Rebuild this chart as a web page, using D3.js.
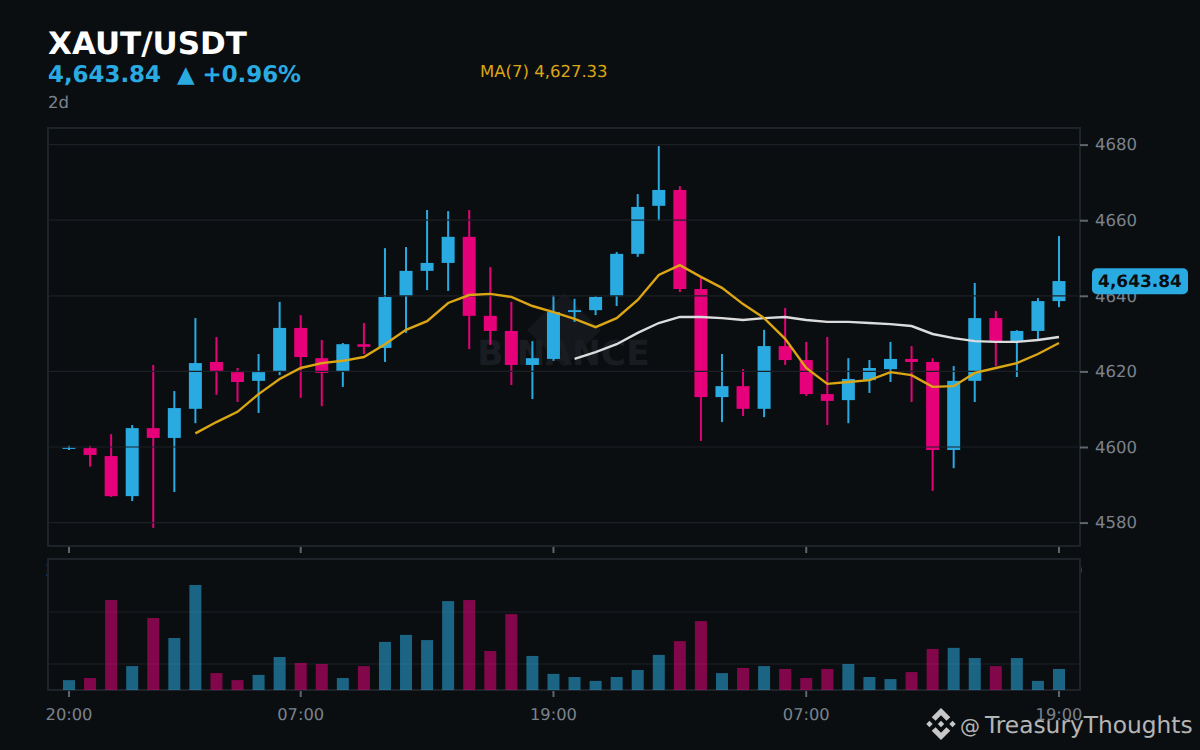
<!DOCTYPE html>
<html>
<head>
<meta charset="utf-8">
<script src="https://cdn.jsdelivr.net/npm/d3@7"></script>
<style>
  html, body { margin: 0; padding: 0; background: #0a0e11; }
  svg { display: block; font-family: "DejaVu Sans", sans-serif; text-rendering: geometricPrecision; }
</style>
</head>
<body>
<svg id="chart" width="1200" height="750"></svg>
<script>
const opens = [4599.5, 4599.7, 4597.6, 4587.0, 4605.0, 4602.4, 4610.1, 4622.5, 4619.8, 4617.5, 4620.1, 4631.5, 4623.5, 4620.1, 4627.2, 4626.2, 4639.9, 4646.6, 4648.7, 4655.6, 4634.7, 4630.7, 4621.7, 4623.3, 4635.7, 4636.2, 4639.9, 4651.1, 4663.8, 4668.0, 4641.8, 4613.2, 4616.1, 4610.1, 4626.7, 4623.0, 4614.0, 4612.4, 4617.7, 4620.6, 4623.3, 4622.5, 4599.2, 4617.5, 4634.1, 4627.8, 4630.7, 4638.6];
const closes = [4599.8, 4597.9, 4587.0, 4605.0, 4602.4, 4610.3, 4622.2, 4620.1, 4617.2, 4619.8, 4631.5, 4623.8, 4619.6, 4627.2, 4626.5, 4639.7, 4646.6, 4648.7, 4655.6, 4634.7, 4630.7, 4621.7, 4623.5, 4635.7, 4636.2, 4639.7, 4651.1, 4663.5, 4668.0, 4641.8, 4613.2, 4616.1, 4610.1, 4626.7, 4623.0, 4614.0, 4612.2, 4618.0, 4620.9, 4623.3, 4622.5, 4599.2, 4617.5, 4634.1, 4628.0, 4630.7, 4638.6, 4643.9];
const highs = [4600.3, 4600.3, 4603.4, 4605.8, 4621.7, 4614.8, 4634.1, 4629.1, 4620.9, 4624.6, 4638.4, 4634.9, 4628.3, 4627.5, 4632.8, 4652.6, 4652.9, 4662.7, 4662.4, 4662.7, 4647.6, 4638.4, 4628.0, 4640.2, 4639.2, 4639.9, 4651.6, 4666.9, 4679.6, 4669.0, 4644.7, 4624.6, 4620.6, 4631.0, 4636.8, 4627.8, 4629.1, 4623.5, 4623.0, 4627.8, 4626.7, 4623.5, 4621.4, 4643.4, 4636.0, 4630.9, 4639.4, 4655.8];
const lows = [4599.2, 4594.8, 4586.8, 4585.7, 4578.6, 4588.1, 4606.3, 4613.8, 4611.9, 4609.0, 4619.0, 4613.0, 4610.8, 4615.9, 4624.6, 4622.5, 4630.2, 4641.5, 4641.3, 4625.9, 4627.0, 4616.4, 4612.7, 4622.8, 4633.1, 4634.9, 4637.3, 4650.3, 4659.8, 4641.0, 4601.6, 4606.6, 4608.2, 4607.9, 4621.7, 4613.5, 4605.8, 4606.3, 4614.3, 4617.2, 4611.9, 4588.4, 4594.4, 4611.9, 4621.4, 4618.5, 4628.3, 4637.0];
const volumes = [0.38, 0.46, 3.46, 0.92, 2.77, 2.0, 4.04, 0.65, 0.38, 0.58, 1.27, 1.04, 1.0, 0.46, 0.92, 1.85, 2.12, 1.92, 3.42, 3.46, 1.5, 2.92, 1.31, 0.62, 0.5, 0.35, 0.5, 0.77, 1.35, 1.88, 2.65, 0.65, 0.85, 0.92, 0.81, 0.46, 0.81, 1.0, 0.5, 0.42, 0.69, 1.58, 1.62, 1.23, 0.92, 1.23, 0.35, 0.81];
// MA(7) starts at candle 6, MA(25) at candle 24
const ma7 = [4603.6, 4606.6, 4609.3, 4614.0, 4618.0, 4620.9, 4622.2, 4622.8, 4623.8, 4627.2, 4631.0, 4633.3, 4638.1, 4640.2, 4640.5, 4639.7, 4637.3, 4635.7, 4633.9, 4631.7, 4634.1, 4638.9, 4645.5, 4648.1, 4645.0, 4642.1, 4637.8, 4634.1, 4628.6, 4620.9, 4616.7, 4617.2, 4617.7, 4619.8, 4619.0, 4615.9, 4616.1, 4619.6, 4620.9, 4622.2, 4624.6, 4627.5];
const ma25 = [4623.3, 4625.1, 4627.2, 4630.2, 4632.8, 4634.4, 4634.4, 4634.1, 4633.6, 4634.1, 4634.4, 4633.6, 4633.1, 4633.1, 4632.8, 4632.5, 4632.0, 4629.9, 4628.8, 4628.0, 4627.8, 4627.8, 4628.3, 4629.1];
const priceTicks = [4580, 4600, 4620, 4640, 4660, 4680];
const volumeTicks = [1, 3];
const timeTickIndex = [0, 11, 23, 35, 47];
const timeTickLabels = ["20:00", "07:00", "19:00", "07:00", "19:00"];
const MA7_START = 6;
const MA25_START = 24;
const LAST_PRICE = 4643.84;

const COLORS = {
  bg: "#0a0e11",
  grid: "#1c2026",
  border: "#1e2329",
  up: "#29abe2",
  down: "#e6007a",
  ma7: "#dba514",
  ma25: "#dcdcdc",
  axis: "#7b828c",
  tick: "#5f6670",
};

const left = 48, right = 1080;
const priceTop = 128, priceBottom = 546;
const volTop = 559, volBottom = 690;

const svg = d3.select("#chart");
svg.append("rect").attr("width", 1200).attr("height", 750).attr("fill", COLORS.bg);

const x = d3.scaleLinear().domain([0, 47]).range([69, 1059]);
const y = d3.scaleLinear().domain([4600 - 99 / 3.78, 4600 + 319 / 3.78]).range([priceBottom, priceTop]);
const yVol = d3.scaleLinear().domain([0, 131 / 26]).range([volBottom, volTop]);

// header
svg.append("text").attr("x", 48).attr("y", 54).attr("fill", "#fff")
  .attr("font-size", 31).attr("font-weight", 700).text("XAUT/USDT");
svg.append("text").attr("x", 48).attr("y", 82).attr("fill", COLORS.up)
  .attr("font-size", 22.9).attr("font-weight", 700).attr("xml:space", "preserve")
  .text("4,643.84  \u25B2 +0.96%");
svg.append("text").attr("x", 480).attr("y", 76.5).attr("fill", COLORS.ma7)
  .attr("font-size", 16.5).text("MA(7) 4,627.33");
svg.append("text").attr("x", 48).attr("y", 108).attr("fill", COLORS.axis)
  .attr("font-size", 16.5).text("2d");

// upper x axis, its labels end up behind the volume panel
function styleAxis(g, fontSize) {
  g.select(".domain").remove();
  g.selectAll("line").attr("stroke", COLORS.tick).attr("stroke-width", 2);
  g.selectAll("text").attr("fill", COLORS.axis).attr("font-size", fontSize)
    .attr("font-family", '"DejaVu Sans", sans-serif');
}
const timeAxis = d3.axisBottom(x)
  .tickValues(timeTickIndex)
  .tickSize(6)
  .tickPadding(11)
  .tickFormat((d) => timeTickLabels[timeTickIndex.indexOf(d)]);

svg.append("g").attr("transform", `translate(-0.5,${priceBottom + 1})`).call(timeAxis).call(styleAxis, 16.3);

// watermark behind the candles
function binanceLogo(parent, cx, cy, s, fill) {
  const diamond = (dx, r) =>
    `M${cx + dx * s},${cy - r * s}L${cx + (dx + r) * s},${cy}L${cx + dx * s},${cy + r * s}L${cx + (dx - r) * s},${cy}Z`;
  const band = (dir) =>
    [[0, 1], [0.58, 0.42], [0.34, 0.2], [0, 0.54], [-0.34, 0.2], [-0.58, 0.42]]
      .map(([a, b], i) => `${i ? "L" : "M"}${cx + a * s},${cy + dir * b * s}`).join("") + "Z";
  parent.append("path").attr("fill", fill)
    .attr("d", diamond(0, 0.2) + diamond(-0.72, 0.2) + diamond(0.72, 0.2) + band(1) + band(-1));
}
const mark = svg.append("g");
mark.append("path").attr("fill", "#14171b")
  .attr("d", d3.line()([[564, 293], [601, 330], [564, 367], [527, 330]]) + "Z");
mark.append("text").attr("x", 563.5).attr("y", 365).attr("text-anchor", "middle")
  .attr("fill", "#191c21").attr("font-size", 34.5).attr("font-weight", 700).text("BINANCE");

// candles
const candles = svg.append("g");
const idx = d3.range(opens.length);
const candleColor = (i) => (closes[i] >= opens[i] ? COLORS.up : COLORS.down);
candles.selectAll("rect.wick").data(idx).join("rect").attr("class", "wick")
  .attr("x", (i) => x(i) - 1)
  .attr("width", 2)
  .attr("y", (i) => y(highs[i]))
  .attr("height", (i) => y(lows[i]) - y(highs[i]))
  .attr("fill", candleColor);
candles.selectAll("rect.body").data(idx).join("rect").attr("class", "body")
  .attr("x", (i) => x(i) - 6.5)
  .attr("width", 13)
  .attr("y", (i) => y(Math.max(opens[i], closes[i])))
  .attr("height", (i) => Math.max(1, Math.abs(y(opens[i]) - y(closes[i]))))
  .attr("fill", candleColor);

// grid lies over the candles
svg.append("g").selectAll("line").data(priceTicks).join("line")
  .attr("x1", left).attr("x2", right)
  .attr("y1", (d) => y(d)).attr("y2", (d) => y(d))
  .attr("stroke", COLORS.grid).attr("stroke-width", 1.2);

// moving averages
const line = d3.line().x((d) => x(d[0])).y((d) => y(d[1]));
svg.append("path").attr("fill", "none").attr("stroke", COLORS.ma25).attr("stroke-width", 2.4)
  .attr("d", line(ma25.map((v, i) => [i + MA25_START, v])));
svg.append("path").attr("fill", "none").attr("stroke", COLORS.ma7).attr("stroke-width", 2.4)
  .attr("d", line(ma7.map((v, i) => [i + MA7_START, v])));

svg.append("rect").attr("x", left).attr("y", priceTop)
  .attr("width", right - left).attr("height", priceBottom - priceTop)
  .attr("fill", "none").attr("stroke", COLORS.border).attr("stroke-width", 2);

// price axis
svg.append("g").attr("transform", `translate(${right},0)`)
  .call(d3.axisRight(y).tickValues(priceTicks).tickSize(8).tickPadding(7).tickFormat(d3.format("d")))
  .call(styleAxis, 16.5);

// last price tag
svg.append("rect").attr("x", 1092).attr("y", y(LAST_PRICE) - 13)
  .attr("width", 96).attr("height", 26).attr("rx", 5).attr("fill", COLORS.up);
svg.append("text").attr("x", 1140).attr("y", y(LAST_PRICE) + 6).attr("text-anchor", "middle")
  .attr("fill", "#0a0d10").attr("font-size", 17).attr("font-weight", 700)
  .text(d3.format(",.2f")(LAST_PRICE));

// volume panel
svg.append("rect").attr("x", left).attr("y", volTop)
  .attr("width", right - left).attr("height", volBottom - volTop)
  .attr("fill", COLORS.bg).attr("stroke", COLORS.border).attr("stroke-width", 2);
svg.append("g").selectAll("line").data(volumeTicks).join("line")
  .attr("x1", left).attr("x2", right)
  .attr("y1", (d) => yVol(d)).attr("y2", (d) => yVol(d))
  .attr("stroke", COLORS.grid).attr("stroke-width", 1.2);
svg.append("g").selectAll("rect").data(idx).join("rect")
  .attr("x", (i) => x(i) - 6)
  .attr("width", 12)
  .attr("y", (i) => yVol(volumes[i]))
  .attr("height", (i) => yVol(0) - yVol(volumes[i]))
  .attr("fill", candleColor)
  .attr("opacity", 0.55);

svg.append("g").attr("transform", `translate(-0.5,${volBottom + 1})`).call(timeAxis).call(styleAxis, 16.3);

// bottom right signature
binanceLogo(svg.append("g"), 941, 724, 16, "#c8c8c8");
svg.append("text").attr("x", 960).attr("y", 733).attr("fill", "#c8c8c8").attr("opacity", 0.9)
  .attr("font-size", 20).text("@");
svg.append("text").attr("x", 985).attr("y", 733).attr("fill", "#c8c8c8").attr("opacity", 0.9)
  .attr("font-size", 23.3).text("TreasuryThoughts");
</script>
</body>
</html>
